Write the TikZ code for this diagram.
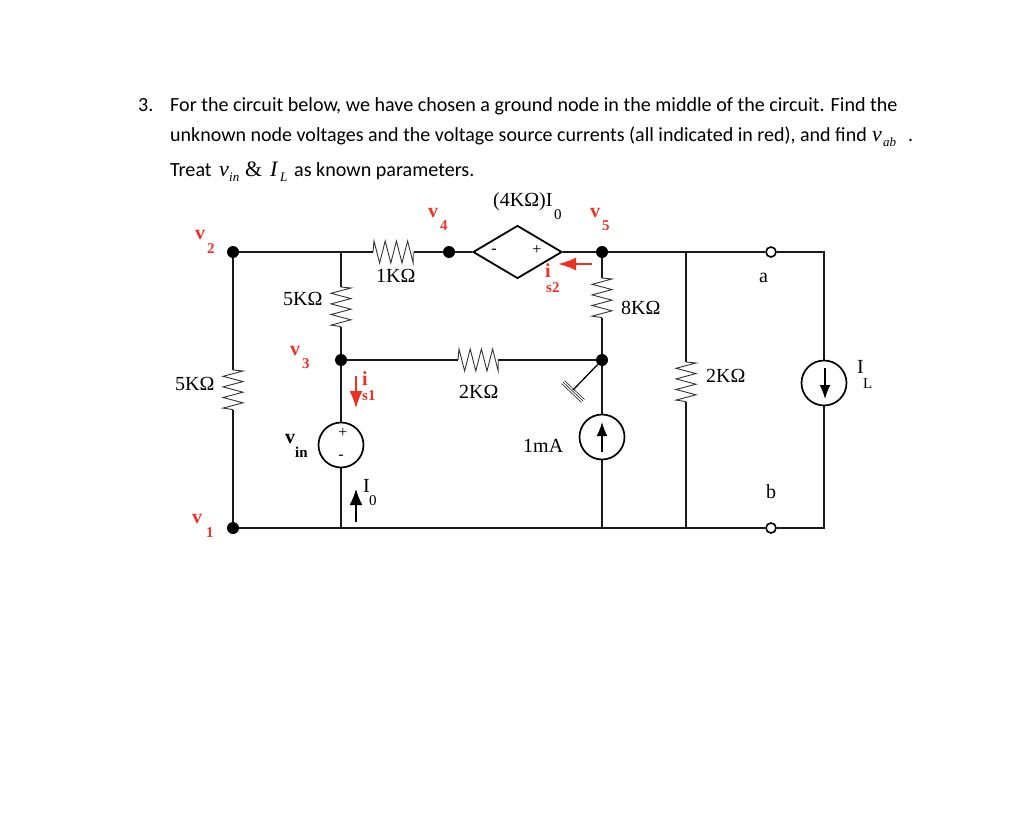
\documentclass[tikz,border=0pt]{standalone}
\usepackage{fontspec}
\usetikzlibrary{shapes.geometric,arrows.meta}
\setmainfont{Liberation Serif}
\newfontfamily\bodyfont{Carlito}
\definecolor{cred}{HTML}{EE3124}
\tikzset{
  x=1pt,y=-1pt,
  wire/.style={line width=2pt,black!90},
  thin part/.style={line width=0.9pt,black!80},
  dot/.style={circle,fill=black,inner sep=0pt,minimum size=12pt},
  open/.style={circle,draw,fill=white,line width=1.6pt,inner sep=0pt,minimum size=10pt},
  src/.style={circle,draw,fill=white,line width=1.7pt,inner sep=0pt,minimum size=45pt},
  body/.style={anchor=base west,inner sep=0pt,font=\bodyfont\fontsize{20.1}{20}\selectfont},
  bodyb/.style={anchor=base west,inner sep=0pt,font=\bodyfont\fontsize{20}{20}\selectfont},
  mathv/.style={anchor=base west,inner sep=0pt,font=\itshape\fontsize{22}{22}\selectfont},
  mathsub/.style={anchor=base west,inner sep=0pt,font=\itshape\fontsize{13}{13}\selectfont},
  val/.style={anchor=base west,inner sep=0pt,font=\fontsize{20}{20}\selectfont},
  sublab/.style={anchor=base west,inner sep=0pt,font=\fontsize{15}{15}\selectfont},
  redv/.style={anchor=base west,inner sep=0pt,text=cred,font=\bfseries\fontsize{20}{20}\selectfont},
  redsub/.style={anchor=base west,inner sep=0pt,text=cred,font=\bfseries\fontsize{15}{15}\selectfont},
  blkv/.style={anchor=base west,inner sep=0pt,font=\bfseries\fontsize{20}{20}\selectfont},
  blksub/.style={anchor=base west,inner sep=0pt,font=\bfseries\fontsize{15}{15}\selectfont},
  signlab/.style={anchor=center,inner sep=0pt,font=\fontsize{16}{16}\selectfont},
}
\newcommand{\vresistor}[2]{\draw[thin part] (#1,#2) -- ++(10,1) -- ++(-20,5.3) -- ++(20,5.3) -- ++(-20,5.3) -- ++(20,5.3) -- ++(-20,5.3) -- ++(20,5.3) -- ++(-20,5.3) -- ++(10,1.5);}
\newcommand{\hresistor}[2]{\draw[thin part] (#1,#2) -- ++(1,-11) -- ++(5.6,22) -- ++(5.6,-22) -- ++(5.6,22) -- ++(5.6,-22) -- ++(5.6,22) -- ++(5.6,-22) -- ++(5.6,22) -- ++(0,-11);}
\begin{document}
\begin{tikzpicture}
\useasboundingbox (0,0) rectangle (1024,826);
% question text
\node[body] (t0) at (138,112) {3.};
\node[body] (t1) at (170,112) {For the circuit below, we have chosen a ground node in the middle of the circuit. Find the};
\node[bodyb] (t2) at (170,142) {unknown node voltages and the voltage source currents (all indicated in red), and find};
\node[mathv] (tv) at (872,142) {v};
\node[mathsub] (tab) at (883,147) {ab};
\node[body] (tp) at (908,142) {.};
\node[body] (t3) at (170,177) {Treat};
\node[mathv] (tv2) at (219,177) {v};
\node[mathsub] (tin) at (229,182) {in};
\node[anchor=base west,inner sep=0pt,font=\fontsize{22}{22}\selectfont] (tamp) at (245,177) {\&};
\node[mathv] (tI) at (270,177) {I};
\node[mathsub] (tL) at (280,182) {L};
\node[body] (t4) at (294,177) {as known parameters.};
% junctions
\node[dot] (n2) at (233,252) {};
\node[dot] (n1) at (233,528) {};
\node[dot] (n3) at (341,360) {};
\node[dot] (n4) at (449,252) {};
\node[dot] (n5) at (602,252) {};
\node[dot] (n0) at (602,360) {};
\node[open] (a) at (771,252) {};
\node[open] (b) at (771,528) {};
\coordinate (j3t) at (341,252);
\coordinate (j3b) at (341,528);
\coordinate (j6t) at (686,252);
\coordinate (j6b) at (686,528);
\coordinate (j5b) at (602,528);
\coordinate (rt) at (824,252);
\coordinate (rb) at (824,528);
% wires
\draw[wire] (n2) -- (373,252);
\draw[wire] (414,252) -- (n4);
\draw[wire] (n2) -- (233,370);
\draw[wire] (233,410) -- (n1);
\draw[wire] (j3t) -- (341,287);
\draw[wire] (341,327) -- (n3);
\draw[wire] (n3) -- (458,360);
\draw[wire] (498,360) -- (n0);
\draw[wire] (n5) -- (602,278);
\draw[wire] (602,318) -- (n0);
\draw[wire] (n5) -- (a);
\draw[wire] (a) -- (rt) -- (rb) -- (b);
\draw[wire] (n1) -- (b);
\draw[wire] (n0) -- (j5b);
\draw[wire] (j6t) -- (686,362);
\draw[wire] (686,402) -- (j6b);
\draw[wire] (n3) -- (j3b);
% resistors
\vresistor{233}{370}
\vresistor{341}{287}
\vresistor{602}{278}
\vresistor{686}{362}
\hresistor{373}{252}
\hresistor{458}{360}
% dependent source
\node[draw,diamond,shape aspect=1.68,line width=1.8pt,inner sep=0pt,minimum width=89pt,minimum height=53pt,fill=white] (dep) at (517.5,252) {};
\draw[wire] (n4) -- (dep.west);
\draw[wire] (dep.east) -- (n5);
\node[signlab] (depm) at (494,251) {-};
\node[signlab] (depp) at (537,250) {+};
% sources
\node[src] (vs) at (341,445) {};
\node[src] (is) at (602,437) {};
\node[src] (il) at (824,383) {};
\node[signlab] (vsp) at (343,433) {+};
\node[signlab] (vsm) at (341,457) {-};
\coordinate (isa) at (602,452);
\coordinate (isb) at (602,422);
\coordinate (ila) at (825,368);
\coordinate (ilb) at (825,399);
\draw[line width=1.7pt,-{Latex[length=14pt,width=11pt]}] (isa) -- (isb);
\draw[line width=1.7pt,-{Latex[length=14pt,width=11pt]}] (ila) -- (ilb);
% ground
\coordinate (g) at (573,390);
\draw[line width=1.3pt] (n0) -- (g);
\draw[line width=0.5pt] (563,382) -- (583,401) (561.5,383.5) -- (581.5,402.5) (564.5,380.5) -- (584.5,399.5);
% arrows
\coordinate (i0a) at (356,522);
\coordinate (i0b) at (356,489);
\draw[line width=1.4pt,-{Latex[length=16pt,width=13pt]}] (i0a) -- (i0b);
\coordinate (s1a) at (356,376);
\coordinate (s1b) at (356,408);
\draw[line width=1.5pt,cred,-{Latex[length=17pt,width=13pt]}] (s1a) -- (s1b);
\coordinate (s2a) at (592,264);
\coordinate (s2b) at (558,264);
\draw[line width=2pt,cred,-{Latex[length=18pt,width=13pt]}] (s2a) -- (s2b);
% values
\node[val] (l1k) at (376,282) {1KΩ};
\node[val] (l5a) at (283,305) {5KΩ};
\node[val] (l5b) at (175,390) {5KΩ};
\node[val] (l2k) at (459,398) {2KΩ};
\node[val] (l8k) at (621,314) {8KΩ};
\node[val] (l2kb) at (706,382) {2KΩ};
\node[val] (l1m) at (523,452) {1mA};
\node[val] (ldep) at (493,207) {(4KΩ)I};
\node[sublab] (ldep0) at (554,219) {0};
\node[val] (la) at (759,282) {a};
\node[val] (lb) at (766,498) {b};
\node[val] (lI0) at (363,492) {I};
\node[sublab] (lI00) at (369,505) {0};
\node[val] (lIL) at (857,373) {I};
\node[sublab] (lILL) at (863,388) {L};
% node voltages
\node[redv] (v2) at (195,240) {v};
\node[redsub] (v2s) at (207,253) {2};
\node[redv] (v3) at (290,355) {v};
\node[redsub] (v3s) at (302,368) {3};
\node[redv] (v4) at (428,218) {v};
\node[redsub] (v4s) at (440,230) {4};
\node[redv] (v5) at (590,218) {v};
\node[redsub] (v5s) at (602,230) {5};
\node[redv] (v1) at (192,523) {v};
\node[redsub] (v1s) at (206,537) {1};
\node[redv] (is1) at (362,385) {i};
\node[redsub] (is1s) at (362,400) {s1};
\node[redv] (is2) at (545,277) {i};
\node[redsub] (is2s) at (546,292) {s2};
\node[blkv] (vin) at (285,443) {v};
\node[blksub] (vins) at (295,457) {in};
\end{tikzpicture}
\end{document}
